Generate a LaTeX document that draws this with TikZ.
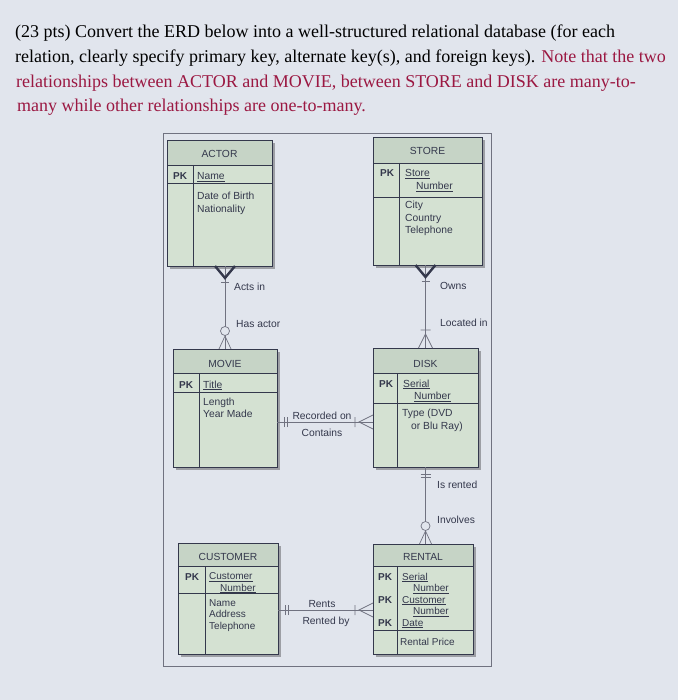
\documentclass[tikz,border=0pt]{standalone}
\usepackage{fontspec}
\setmainfont{Liberation Serif}
\newfontfamily\erdfont{Liberation Sans}
\usetikzlibrary{positioning, shadows}

\definecolor{paper}{RGB}{225,229,237}
\definecolor{boxfill}{RGB}{212,225,210}
\definecolor{headfill}{RGB}{198,212,198}
\definecolor{ink}{RGB}{52,56,76}
\definecolor{linkgray}{RGB}{112,114,128}
\definecolor{notered}{RGB}{155,24,66}

% entity box: name, left, top, right, bottom, header rule, key rule, key column
\newcommand{\erdentity}[8]{%
    \node[entitybox, minimum width={#4-#2}, minimum height={#5-#3}] (#1) at ({(#2+#4)/2},{(#3+#5)/2}) {};
    \fill[headfill] (#2,#3) rectangle (#4,#6);
    \draw[rulebar] (#2,#6) -- (#4,#6) (#2,#7) -- (#4,#7) (#8,#6) -- (#8,#5);
    \draw[rulebar, line width=0.9pt] (#1.north west) rectangle (#1.south east);
}

\begin{document}
\begin{tikzpicture}[
    x=1pt, y=-1pt,
    entitybox/.style={
        draw=ink, line width=0.9pt, fill=boxfill, inner sep=0pt, outer sep=0pt,
        drop shadow={shadow xshift=3pt, shadow yshift=-3pt, fill=black, opacity=0.3}
    },
    rulebar/.style={draw=ink, line width=0.6pt},
    framebar/.style={draw=linkgray, line width=0.9pt},
    link/.style={draw=linkgray, line width=0.7pt},
    headtext/.style={anchor=base, inner sep=0pt, text=ink, font=\erdfont\fontsize{10.3}{12}\selectfont},
    pktext/.style={anchor=base west, inner sep=0pt, text=ink, font=\erdfont\bfseries\fontsize{10}{12}\selectfont},
    fieldtext/.style={anchor=base west, inner sep=0pt, text=ink, align=left, font=\erdfont\fontsize{10.3}{12.5}\selectfont},
    tightfield/.style={fieldtext, font=\erdfont\fontsize{10}{11.5}\selectfont},
    relname/.style={inner sep=0pt, text=ink, font=\erdfont\fontsize{10.3}{12}\selectfont},
    qtext/.style={anchor=base west, inner sep=0pt, font=\fontsize{18}{25}\selectfont},
    onemany/.pic={\draw[link] (-7,0) -- (0,14) -- (7,0) (-5,18) -- (5,18);},
    zeromany/.pic={\draw[link] (-6,0) -- (0,13) -- (6,0); \draw[link, fill=paper] (0,18) circle[radius=4.5pt];},
    oneone/.pic={\draw[link] (-5,7) -- (5,7) (-5,10) -- (5,10);},
    heavymany/.pic={\draw[ink, line width=2.4pt] (-10,0) -- (0,12) -- (10,0); \draw[link] (-4,16) -- (4,16);}
]
    \useasboundingbox (0,0) rectangle (678,700);
    \fill[paper] (0,0) rectangle (678,700);

    % question
    \node[qtext] (q1) at (15,38) {(23 pts) Convert the ERD below into a well-structured relational database (for each};
    \node[qtext] (q2) at (15,63) {relation, clearly specify primary key, alternate key(s), and foreign keys). \textcolor{notered}{Note that the two}};
    \node[qtext, notered] (q3) at (16,88) {relationships between ACTOR and MOVIE, between STORE and DISK are many-to-};
    \node[qtext, notered] (q4) at (17,112) {many while other relationships are one-to-many.};

    \draw[framebar] (163,133) rectangle (491,666);

    % entities (multi-line texts sit on the baseline of their last line)
    \erdentity{actor}{167}{140}{272}{266}{165}{183}{193}
    \erdentity{store}{373}{137}{482}{265}{163}{197}{399}
    \erdentity{movie}{173}{349}{277}{467}{373}{392}{199}
    \erdentity{disk}{373}{348}{478}{467}{373}{403}{397}
    \erdentity{customer}{178}{543}{278}{654}{566}{593}{205}
    \erdentity{rental}{373}{544}{473}{654}{566}{630}{397}

    \node[headtext] (actorname) at (219.5,158) {ACTOR};
    \node[pktext] (actorpk) at (173,180) {PK};
    \node[fieldtext] (actorkey) at (197,180) {\underline{Name}};
    \node[fieldtext] (actorattr) at (197,212.5) {Date of Birth\\Nationality};

    \node[headtext] (storename) at (427.5,155) {STORE};
    \node[pktext] (storepk) at (380,177) {PK};
    \node[fieldtext] (storekey) at (405,189.5) {\underline{Store}\\\hspace*{11pt}\underline{Number}};
    \node[fieldtext] (storeattr) at (405,234) {City\\Country\\Telephone};

    \node[headtext] (moviename) at (225,367) {MOVIE};
    \node[pktext] (moviepk) at (179,388) {PK};
    \node[fieldtext] (moviekey) at (203,388) {\underline{Title}};
    \node[fieldtext] (movieattr) at (203,417.5) {Length\\Year Made};

    \node[headtext] (diskname) at (425.5,367) {DISK};
    \node[pktext] (diskpk) at (379,387) {PK};
    \node[fieldtext] (diskkey) at (403,399.5) {\underline{Serial}\\\hspace*{11pt}\underline{Number}};
    \node[fieldtext] (diskattr) at (402,429) {Type (DVD\\\hspace*{9pt}or Blu Ray)};

    \node[headtext] (customername) at (228,560) {CUSTOMER};
    \node[pktext] (customerpk) at (185,580) {PK};
    \node[tightfield] (customerkey) at (209,591) {\underline{Customer}\\\hspace*{11pt}\underline{Number}};
    \node[tightfield] (customerattr) at (209,629) {Name\\Address\\Telephone};

    \node[headtext] (rentalname) at (423,560) {RENTAL};
    \node[pktext] (rentalpk1) at (378,580) {PK};
    \node[pktext] (rentalpk2) at (378,603) {PK};
    \node[pktext] (rentalpk3) at (378,626) {PK};
    \node[tightfield] (rentalkey) at (402,626) {\underline{Serial}\\\hspace*{11pt}\underline{Number}\\\underline{Customer}\\\hspace*{11pt}\underline{Number}\\\underline{Date}};
    \node[tightfield] (rentalattr) at (400,645) {Rental Price};

    % relationships
    \coordinate (recordA) at ([yshift=-14pt]movie.east);
    \coordinate (rentA) at ([yshift=-11.5pt]customer.east);
    \draw[link] (actor.south -| movie.north) -- (movie.north);
    \draw[link] (store.south -| disk.north) -- (disk.north);
    \draw[link] (disk.south) -- (disk.south |- rental.north);
    \draw[link] (recordA) -- (recordA -| disk.west);
    \draw[link] (rentA) -- (rentA -| rental.west);

    \pic at (actor.south -| movie.north) {heavymany};
    \pic[rotate=180] at (movie.north) {zeromany};
    \pic at (store.south -| disk.north) {heavymany};
    \pic[rotate=180] at (disk.north) {onemany};
    \pic at (disk.south) {oneone};
    \pic[rotate=180] at (disk.south |- rental.north) {zeromany};
    \pic[rotate=90] at (recordA) {oneone};
    \pic[rotate=-90] at (recordA -| disk.west) {onemany};
    \pic[rotate=90] at (rentA) {oneone};
    \pic[rotate=-90] at (rentA -| rental.west) {onemany};

    \node[relname, anchor=base west] (actsin) at (234,290) {Acts in};
    \node[relname, anchor=base west] (hasactor) at (236,327) {Has actor};
    \node[relname, anchor=base west] (owns) at (440,289) {Owns};
    \node[relname, below=37pt of owns.base west, anchor=base west] (locatedin) {Located in};
    \node[relname, anchor=base] (recordedon) at (322,419) {Recorded on};
    \node[relname, below=17pt of recordedon.base, anchor=base] (contains) {Contains};
    \node[relname, anchor=base west] (isrented) at (437,488) {Is rented};
    \node[relname, below=35pt of isrented.base west, anchor=base west] (involves) {Involves};
    \node[relname, anchor=base] (rents) at (322,607) {Rents};
    \node[relname, anchor=base] (rentedby) at (326,624) {Rented by};
\end{tikzpicture}
\end{document}
